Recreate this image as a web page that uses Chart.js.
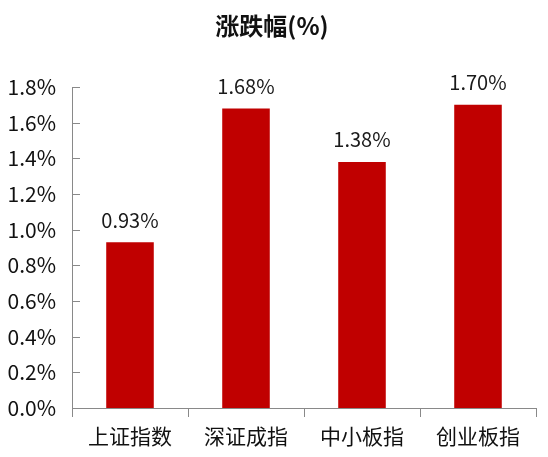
<!DOCTYPE html>
<html><head><meta charset="utf-8">
<script src="https://cdn.jsdelivr.net/npm/chart.js@4/dist/chart.umd.min.js"></script>
<style>html,body{margin:0;padding:0;background:#fff}#wrap{width:548px;height:457px}</style>
</head><body><div id="wrap"><canvas id="c" width="548" height="457"></canvas></div>
<script>
const categories = ["上证指数", "深证成指", "中小板指", "创业板指"];
const changePct = [0.93, 1.68, 1.38, 1.70];
const titleText = "涨跌幅(%)";
const yMin = 0, yMax = 1.8, yStep = 0.2;

const FONT = "'Noto Sans CJK SC', 'Microsoft YaHei', sans-serif";

const yInnerTicks = {
  id: 'yInnerTicks',
  afterDraw(chart) {
    const ctx = chart.ctx, y = chart.scales.y, ca = chart.chartArea;
    ctx.save();
    ctx.strokeStyle = '#898989'; ctx.lineWidth = 1;
    y.ticks.forEach((t, i) => {
      const py = Math.round(y.getPixelForTick(i)) + 0.5;
      ctx.beginPath(); ctx.moveTo(ca.left, py); ctx.lineTo(ca.left + 8, py); ctx.stroke();
    });
    ctx.restore();
  }
};
const dataLabels = {
  id: 'dataLabels',
  afterDatasetsDraw(chart) {
    const ctx = chart.ctx, meta = chart.getDatasetMeta(0);
    ctx.save();
    ctx.font = "20px " + FONT; ctx.fillStyle = '#1a1a1a';
    ctx.textAlign = 'center'; ctx.textBaseline = 'middle';
    meta.data.forEach((bar, i) => {
      ctx.fillText(changePct[i].toFixed(2) + '%', bar.x, bar.y - 22);
    });
    ctx.restore();
  }
};
const titlePlugin = {
  id: 'titlePlugin',
  afterDraw(chart) {
    const ctx = chart.ctx;
    ctx.save();
    ctx.font = "bold 24px " + FONT; ctx.fillStyle = '#111';
    ctx.textAlign = 'center'; ctx.textBaseline = 'middle';
    ctx.fillText(titleText, 272, 26);
    ctx.restore();
  }
};

new Chart(document.getElementById('c'), {
  type: 'bar',
  data: { labels: categories, datasets: [{ data: changePct, backgroundColor: '#C00000', categoryPercentage: 1, barPercentage: 0.41 }] },
  options: {
    responsive: false, animation: false, devicePixelRatio: 1,
    layout: { padding: { top: 87, right: 12, left: 0, bottom: 0 } },
    plugins: { legend: { display: false }, tooltip: { enabled: false } },
    scales: {
      x: {
        grid: { display: true, drawOnChartArea: false, offset: true, tickLength: 9, color: '#898989' },
        border: { color: '#898989', width: 1 },
        ticks: { font: { size: 21, family: FONT }, color: '#111', padding: 6 },
        afterFit(s) { s.height = 49; }
      },
      y: {
        min: yMin, max: yMax,
        grid: { display: false },
        border: { display: true, color: '#898989', width: 1 },
        ticks: { stepSize: yStep, font: { size: 21, family: FONT }, color: '#111', padding: 8,
          callback: v => v.toFixed(1) + '%' },
        afterFit(s) { s.width = 72; }
      }
    }
  },
  plugins: [yInnerTicks, dataLabels, titlePlugin]
});
</script></body></html>
